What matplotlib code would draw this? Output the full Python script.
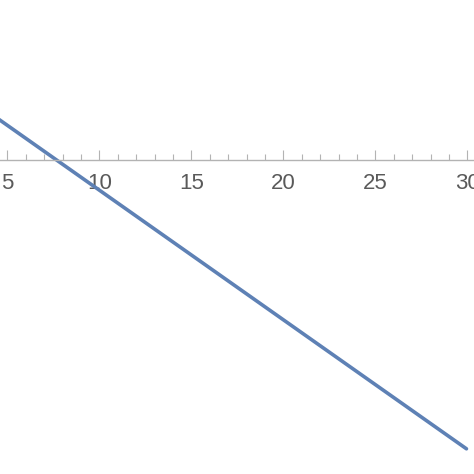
import numpy as np
import matplotlib
matplotlib.use('Agg')
import matplotlib.pyplot as plt
from matplotlib.ticker import MultipleLocator

# straight line
x = [4.0, 29.95]
y = [2.59, -15.70]

xticks = [5, 10, 15, 20, 25, 30]

fig = plt.figure(figsize=(4.74, 4.74), dpi=100)
ax = fig.add_axes([0, 0, 1, 1])
ax.plot(x, y, color='#5E81B5', lw=2.6, solid_capstyle='round', clip_on=True)

ax.set_xlim(4.6, 30.36)
ax.set_ylim(-17.07, 8.70)

for s in ['top', 'right', 'left']:
    ax.spines[s].set_visible(False)
ax.spines['bottom'].set_position(('data', 0))
ax.spines['bottom'].set_color('#b3b3b3')
ax.spines['bottom'].set_linewidth(1.0)

ax.set_yticks([])
ax.set_xticks(xticks)
ax.set_xticklabels([str(t) for t in xticks])
ax.xaxis.set_minor_locator(MultipleLocator(1))
ax.tick_params(axis='x', which='major', direction='in', length=7, width=0.8,
               color='#b3b3b3', labelcolor='#5a5a5a', labelsize=16, pad=9)
ax.tick_params(axis='x', which='minor', direction='in', length=4, width=0.8,
               color='#b3b3b3')
for lab in ax.get_xticklabels():
    lab.set_fontfamily('Liberation Sans')

fig.savefig('out.png', dpi=100)
